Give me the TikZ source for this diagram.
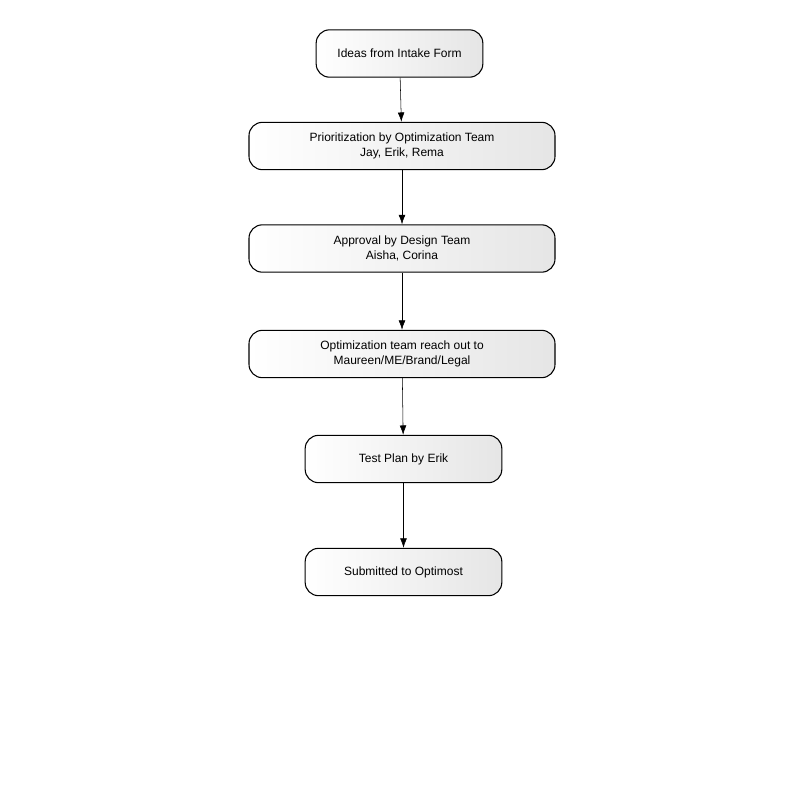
\documentclass[tikz,border=0pt]{standalone}
\usepackage{fontspec}
\setmainfont{Liberation Sans}
\usetikzlibrary{arrows.meta}

\begin{document}
\begin{tikzpicture}[x=0.75pt, y=-0.75pt,
    stagebox/.style={draw, thick, rounded corners=10pt, left color=white, right color=black!10,
      align=center, font=\fontsize{9}{11}\selectfont, inner sep=0pt, minimum height=35.5pt},
    flow/.style={-{Latex[length=7pt, width=5pt]}}]
    \useasboundingbox (0,0) rectangle (800,800);

    \node[stagebox, minimum width=125pt] (ideas) at (399.5,53.5) {Ideas from Intake Form};
    \node[stagebox, minimum width=229.5pt] (prio) at (402,146) {Prioritization by Optimization Team\\Jay, Erik, Rema};
    \node[stagebox, minimum width=229.5pt] (approve) at (402,248.5) {Approval by Design Team\\Aisha, Corina};
    \node[stagebox, minimum width=229.5pt] (reach) at (402,354) {Optimization team reach out to\\Maureen/ME/Brand/Legal};
    \node[stagebox, minimum width=147.5pt] (plan) at (403.5,459) {Test Plan by Erik};
    \node[stagebox, minimum width=147.5pt] (submit) at (403.5,572) {Submitted to Optimost};

    \draw[flow] (ideas) -- (prio);
    \draw[flow] (prio) -- (approve);
    \draw[flow] (approve) -- (reach);
    \draw[flow] (reach) -- (plan);
    \draw[flow] (plan) -- (submit);
\end{tikzpicture}
\end{document}
